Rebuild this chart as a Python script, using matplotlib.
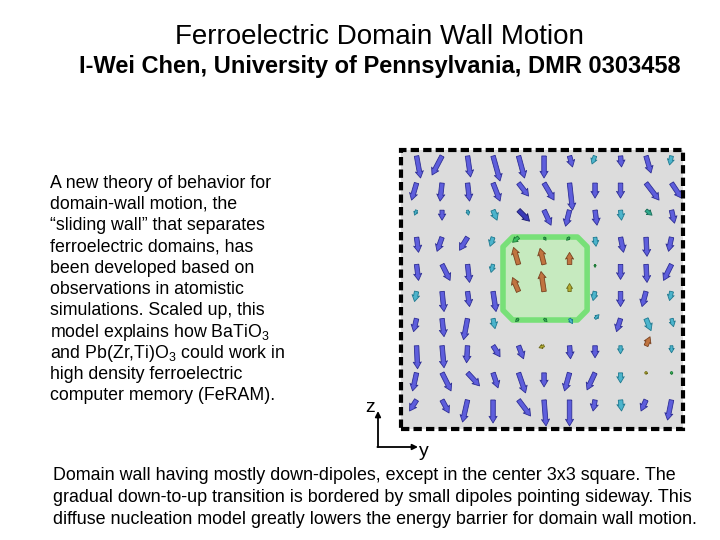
import numpy as np
import matplotlib
matplotlib.use("Agg")
import matplotlib.pyplot as plt
from matplotlib.patches import Rectangle, Polygon

plt.rcParams['font.family'] = ['Liberation Sans', 'DejaVu Sans']
plt.rcParams['mathtext.fontset'] = 'custom'
plt.rcParams['mathtext.rm'] = 'Liberation Sans'

title = "Ferroelectric Domain Wall Motion"
subtitle = "I-Wei Chen, University of Pennsylvania, DMR 0303458"

side_text = [
    "A new theory of behavior for",
    "domain-wall motion, the",
    "\u201csliding wall\u201d that separates",
    "ferroelectric domains, has",
    "been developed based on",
    "observations in atomistic",
    "simulations. Scaled up, this",
    r"model explains how BaTiO$_\mathregular{3}$",
    r"and Pb(Zr,Ti)O$_\mathregular{3}$ could work in",
    "high density ferroelectric",
    "computer memory (FeRAM).",
]

caption = [
    "Domain wall having mostly down-dipoles, except in the center 3x3 square. The",
    "gradual down-to-up transition is bordered by small dipoles pointing sideway. This",
    "diffuse nucleation model greatly lowers the energy barrier for domain wall motion.",
]

# dipole field, 10 rows x 11 columns
# dy_comp: sideways (y) component, dz_comp: vertical component (positive = down)
dy_comp = [
    [4, -10, 3, 7, 6, 0, 3, -3, 1, 5, -2],
    [-5, -2, 2, 7, 10, 10, 3, 0, 0, 13, 10],
    [-2, 0, 1, 4, 11, 7, -4, 2, 1, 6, 3],
    [2, -5, -8, -3, -6, 2, -3, 1, 3, 1, -3],
    [2, 8, 2, -2, -5, -4, 0, 0, 0, 1, -8],
    [-2, 2, 2, 3, -6, -3, 0, -2, 0, -4, -2],
    [-3, 2, -4, 2, -3, 3, 3, 4, -4, 5, 2],
    [1, 2, -1, 7, 5, -5, 1, 0, 0, 4, 0],
    [-4, 9, 12, 5, 7, 0, -5, -8, 0, 1, 0],
    [-7, 7, -5, 0, 12, 2, 0, -2, 1, -5, -4],
]
dz_comp = [
    [22, 19, 21, 25, 22, 22, 11, 8, 11, 17, 9],
    [17, 18, 18, 18, 13, 17, 27, 15, 15, 17, 15],
    [5, 10, 5, 10, 11, 15, 16, 15, 10, 5, 13],
    [15, 14, 13, 9, 5, 3, 3, 9, 15, 19, 14],
    [16, 16, 18, 8, -17, -16, -12, 3, 15, 18, 16],
    [10, 20, 15, 20, -14, -20, -8, 9, 15, 15, 9],
    [13, 18, 21, 10, 3, 3, 5, -4, 13, 12, 8],
    [23, 22, 17, 11, 13, 2, 13, 12, 8, -9, 7],
    [18, 18, 13, 15, 20, 14, 18, 17, 10, 2, 2],
    [11, 13, 22, 23, 16, 26, 26, 11, 11, 11, 20],
]
kinds = [
    "bbbbbbbcbbc",
    "bbbbbbbbbbb",
    "cbccdbbbctb",
    "bbbcgggcbbb",
    "bbbcooogbbb",
    "cbbbooycbbc",
    "bbbcggccbcc",
    "bbbbbybbcoc",
    "bbbbbbbbcyg",
    "bbbbbbbbcbb",
]

face = {'b': '#5e5edc', 'd': '#3a3ab8', 'c': '#4cb4cc', 't': '#2fa88c',
        'g': '#3cc060', 'o': '#c07440', 'y': '#b4ac30'}
edge = {'b': '#2e2e96', 'd': '#1c1c70', 'c': '#1f7a90', 't': '#1a6e5a',
        'g': '#1f7a38', 'o': '#7a4220', 'y': '#6e6a18'}

fig = plt.figure(figsize=(7.2, 5.4), dpi=100)

# overlay in pixel coordinates for the slide text
bg = fig.add_axes([0, 0, 1, 1])
bg.set_xlim(0, 720)
bg.set_ylim(540, 0)
bg.axis('off')

bg.text(379, 37, title, ha='center', va='center', fontsize=20)
bg.text(380, 67, subtitle, ha='center', va='center', fontsize=17, fontweight='bold')

for i, line in enumerate(side_text):
    bg.text(50, 183 + i * 21.3, line, ha='left', va='center', fontsize=12.8)

for i, line in enumerate(caption):
    bg.text(53, 476 + i * 21.5, line, ha='left', va='center', fontsize=12.9)

# z / y axes sketch
bg.annotate("", xy=(378, 411), xytext=(378, 447),
            arrowprops=dict(arrowstyle='-|>', lw=1.3, color='black', mutation_scale=8,
                            shrinkA=0, shrinkB=0))
bg.annotate("", xy=(418, 447), xytext=(377.4, 447),
            arrowprops=dict(arrowstyle='-|>', lw=1.3, color='black', mutation_scale=8,
                            shrinkA=0, shrinkB=0))
bg.text(370, 407, "z", ha='center', va='center', fontsize=14)
bg.text(424, 452, "y", ha='center', va='center', fontsize=14)

# dipole panel
ax = fig.add_axes([401 / 720, 1 - 429 / 540, 282 / 720, 279 / 540])
ax.set_facecolor('#dcdcdc')
ax.set_xlim(-0.61, 10.45)
ax.set_ylim(10.07, -0.22)
ax.set_xticks([])
ax.set_yticks([])
for s in ax.spines.values():
    s.set_visible(False)
ax.add_patch(Rectangle((0, 0), 1, 1, transform=ax.transAxes, fill=False,
                       edgecolor='black', lw=3, ls=(0, (2, 1)), clip_on=False, zorder=5))

# highlighted centre region
x0, x1, y0, y1 = 3.39, 6.69, 2.99, 6.05
cx, cy = 0.38, 0.36
octo = [(x0 + cx, y0), (x1 - cx, y0), (x1, y0 + cy), (x1, y1 - cy),
        (x1 - cx, y1), (x0 + cx, y1), (x0, y1 - cy), (x0, y0 + cy)]
ax.add_patch(Polygon(octo, closed=True, facecolor='#c6eabf', edgecolor='#78e078',
                     lw=4, zorder=1, joinstyle='round'))

U = np.array(dy_comp, dtype=float) / 25.5
V = np.array(dz_comp, dtype=float) / 27.1
rows, cols = U.shape
X, Y = np.meshgrid(np.arange(cols), np.arange(rows))
flat_kinds = [k for row in kinds for k in row]

ax.quiver(X.ravel(), Y.ravel(), U.ravel(), V.ravel(),
          color=[face[k] for k in flat_kinds],
          edgecolors=[edge[k] for k in flat_kinds], linewidths=0.6,
          angles='xy', scale_units='xy', scale=1, pivot='tail',
          width=0.016, headwidth=1.8, headlength=1.5, headaxislength=1.3,
          minshaft=1.6, minlength=0.6, zorder=3)

fig.savefig("out.png", dpi=100)
